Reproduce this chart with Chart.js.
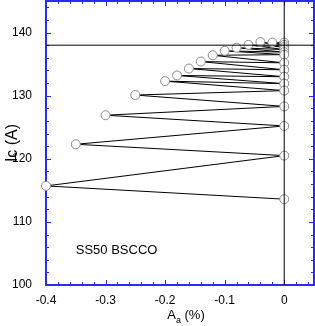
<!DOCTYPE html>
<html>
<head>
<meta charset="utf-8">
<script src="https://cdn.jsdelivr.net/npm/chart.js@4.4.1/dist/chart.umd.min.js"></script>
<style>
html,body{margin:0;padding:0;background:#fff;}
#wrap{width:315px;height:326px;position:relative;}
</style>
</head>
<body>
<div id="wrap"><canvas id="c"></canvas></div>
<script>
// Ic measured at zero strain (after each release), in order
const releasedIc = [138.4, 138.05, 137.7, 137.3, 136.9, 136.5, 135.2, 134.1, 133.0, 131.9, 130.8, 128.3, 125.2, 120.5, 113.6];
// Applied strain steps A_a (%) and Ic under load
const appliedStrain = [-0.02, -0.04, -0.06, -0.08, -0.10, -0.12, -0.14, -0.16, -0.18, -0.20, -0.25, -0.30, -0.35, -0.40];
const loadedIc = [138.4, 138.5, 138.05, 137.6, 137.1, 136.4, 135.4, 134.3, 133.2, 132.3, 130.1, 126.9, 122.3, 115.7];
// Reference lines
const refIc = 138;
const refStrain = 0;
// Axes
const xRange = [-0.4, 0.05];
const yRange = [100, 145];
const xTickValues = [-0.4, -0.3, -0.2, -0.1, 0];
const xTickLabels = ['-0.4', '-0.3', '-0.2', '-0.1', '0'];
const yTickValues = [100, 110, 120, 130, 140];
const yTickLabels = ['100', '110', '120', '130', '140'];
const sampleLabel = 'SS50 BSCCO';

const FONT = "Arial, 'Liberation Sans', sans-serif";
const BLUE = '#2a2aff';

const zigzag = [];
zigzag.push({x: refStrain, y: releasedIc[0]});
for (let i = 0; i < appliedStrain.length; i++) {
  zigzag.push({x: appliedStrain[i], y: loadedIc[i]});
  zigzag.push({x: refStrain, y: releasedIc[i + 1]});
}

const frame = {
  id: 'frame',
  beforeDatasetsDraw(chart) {
    const {ctx, chartArea: a, scales: {x, y}} = chart;
    ctx.save();
    ctx.strokeStyle = BLUE;
    ctx.lineWidth = 1;
    for (let i = 0; ; i++) {
      const v = xRange[0] + i * 0.02;
      if (v > xRange[1] + 1e-9) break;
      const px = Math.round(x.getPixelForValue(v)) + 0.5;
      const major = Math.abs(v * 10 - Math.round(v * 10)) < 1e-6;
      const len = major ? 5 : 3;
      ctx.beginPath();
      ctx.moveTo(px, a.bottom); ctx.lineTo(px, a.bottom - len);
      ctx.moveTo(px, a.top); ctx.lineTo(px, a.top + len);
      ctx.stroke();
    }
    for (let i = 0; ; i++) {
      const v = yRange[0] + i * 2;
      if (v > yRange[1] + 1e-9) break;
      const py = Math.round(y.getPixelForValue(v)) + 0.5;
      const major = v % 10 === 0;
      const len = major ? 5 : 3;
      ctx.beginPath();
      ctx.moveTo(a.left, py); ctx.lineTo(a.left + len, py);
      ctx.moveTo(a.right, py); ctx.lineTo(a.right - len, py);
      ctx.stroke();
    }
    ctx.lineWidth = 2;
    ctx.strokeRect(a.left, a.top, a.right - a.left, a.bottom - a.top);
    ctx.restore();
  },
  afterDraw(chart) {
    const {ctx, scales: {x, y}} = chart;
    ctx.save();
    ctx.fillStyle = '#000';
    ctx.font = '13px ' + FONT;
    ctx.textAlign = 'left';
    ctx.textBaseline = 'middle';
    ctx.fillText(sampleLabel, x.getPixelForValue(-0.35), y.getPixelForValue(105.5));
    ctx.textBaseline = 'alphabetic';
    const big = '13px ' + FONT, small = '9px ' + FONT;
    ctx.font = big; const wA = ctx.measureText('A').width;
    ctx.font = small; const wa = ctx.measureText('a').width;
    ctx.font = big; const wR = ctx.measureText(' (%)').width;
    const total = wA + wa + wR;
    let cx = 186 - total / 2;
    const base = 319;
    ctx.font = big; ctx.fillText('A', cx, base); cx += wA;
    ctx.font = small; ctx.fillText('a', cx, base + 4); cx += wa;
    ctx.font = big; ctx.fillText(' (%)', cx, base);
    ctx.restore();
  }
};

new Chart(document.getElementById('c'), {
  type: 'scatter',
  data: {
    datasets: [
      {
        data: zigzag,
        showLine: true,
        borderColor: '#000',
        borderWidth: 1,
        pointRadius: 4.5,
        pointBackgroundColor: '#fff',
        pointBorderColor: '#8a8a8a',
        pointBorderWidth: 1,
        clip: false,
        order: 2
      },
      {
        data: [{x: xRange[0], y: refIc}, {x: xRange[1], y: refIc}],
        showLine: true, borderColor: '#000', borderWidth: 1, pointRadius: 0, order: 1
      },
      {
        data: [{x: refStrain, y: yRange[0]}, {x: refStrain, y: yRange[1]}],
        showLine: true, borderColor: '#000', borderWidth: 1, pointRadius: 0, order: 1
      }
    ]
  },
  options: {
    responsive: true,
    maintainAspectRatio: false,
    animation: false,
    events: [],
    layout: {autoPadding: false, padding: {left: 0, right: 1, top: 1, bottom: 0}},
    plugins: {legend: {display: false}, tooltip: {enabled: false}},
    scales: {
      x: {
        type: 'linear', min: xRange[0], max: xRange[1],
        grid: {display: false},
        border: {display: false},
        afterBuildTicks(s) { s.ticks = xTickValues.map(v => ({value: v})); },
        afterFit(s) { s.height = 41; s.paddingLeft = 0; s.paddingRight = 0; },
        ticks: {
          autoSkip: false, maxRotation: 0, padding: 0,
          color: '#000', font: {family: FONT, size: 12},
          callback(v, i) { return xTickLabels[i]; }
        }
      },
      y: {
        type: 'linear', min: yRange[0], max: yRange[1],
        grid: {display: false},
        border: {display: false},
        afterBuildTicks(s) { s.ticks = yTickValues.map(v => ({value: v})); },
        afterFit(s) { s.width = 46; s.paddingTop = 0; s.paddingBottom = 0; },
        title: {display: true, text: 'Ic (A)', color: '#000', font: {family: FONT, size: 16}, padding: {top: 3, bottom: 0}},
        ticks: {
          autoSkip: false, padding: 6,
          color: '#000', font: {family: FONT, size: 12},
          callback(v, i) { return yTickLabels[i]; }
        }
      }
    }
  },
  plugins: [frame]
});
</script>
</body>
</html>
